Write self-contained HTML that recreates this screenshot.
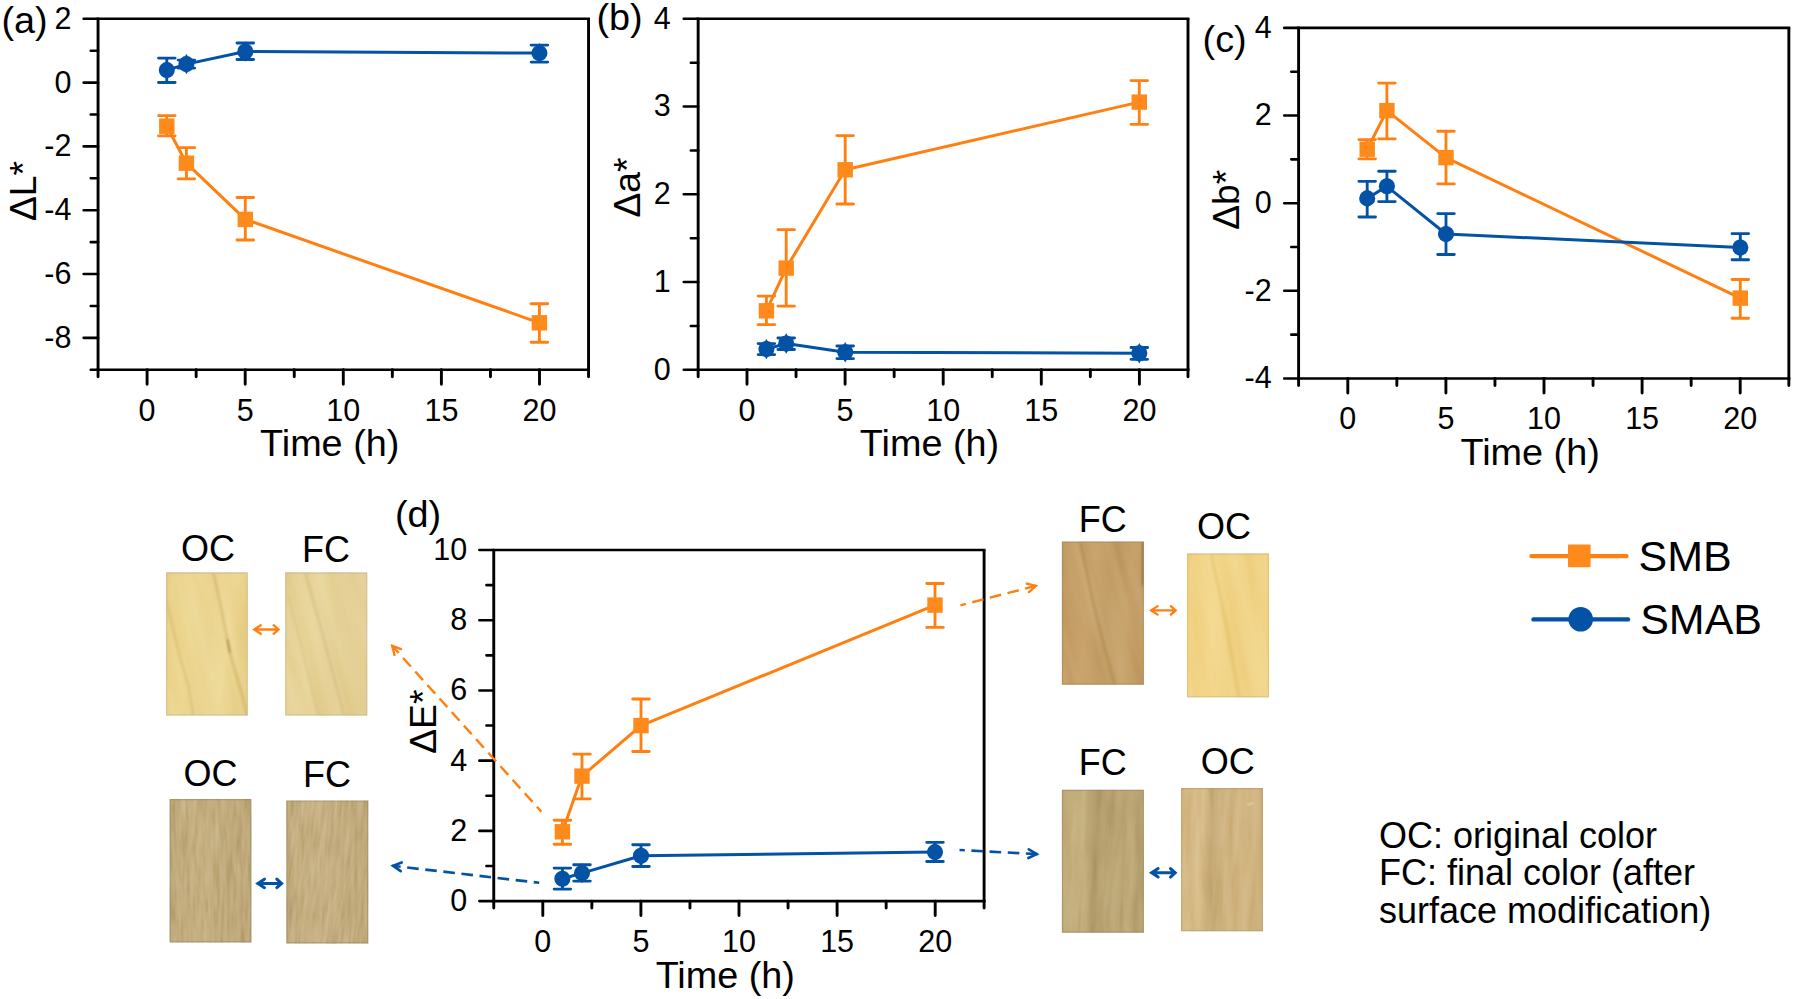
<!DOCTYPE html>
<html lang="en"><head><meta charset="utf-8"><title>Color change of surface-modified bamboo</title>
<style>html,body{margin:0;padding:0;background:#fff}svg{display:block}</style></head>
<body>
<svg width="1794" height="999" viewBox="0 0 1794 999" font-family="'Liberation Sans', Arial, Helvetica, sans-serif" fill="#000">
<defs>
<linearGradient id="w1" x1="0" y1="0" x2="1" y2="0.22"><stop offset="0" stop-color="#E4C981"/><stop offset="0.08" stop-color="#EBD48E"/><stop offset="0.35" stop-color="#EDD793"/><stop offset="0.6" stop-color="#EAD38D"/><stop offset="0.8" stop-color="#EDD895"/><stop offset="1" stop-color="#E8D18B"/></linearGradient>
<linearGradient id="w2" x1="0" y1="0" x2="1" y2="0.22"><stop offset="0" stop-color="#E2CD90"/><stop offset="0.1" stop-color="#E6D297"/><stop offset="0.4" stop-color="#E8D59B"/><stop offset="0.65" stop-color="#E4D095"/><stop offset="1" stop-color="#E3CE92"/></linearGradient>
<linearGradient id="w3" x1="0" y1="0" x2="1" y2="0"><stop offset="0" stop-color="#BBA574"/><stop offset="0.1" stop-color="#C2AC7E"/><stop offset="0.45" stop-color="#C5AF81"/><stop offset="0.7" stop-color="#C0AA7B"/><stop offset="1" stop-color="#BFA878"/></linearGradient>
<linearGradient id="w4" x1="0" y1="0" x2="1" y2="0"><stop offset="0" stop-color="#BEA878"/><stop offset="0.1" stop-color="#C4AE80"/><stop offset="0.45" stop-color="#C7B184"/><stop offset="0.75" stop-color="#C2AC7E"/><stop offset="1" stop-color="#C0AA7B"/></linearGradient>
<linearGradient id="w5" x1="0" y1="0" x2="1" y2="0.2"><stop offset="0" stop-color="#BD985F"/><stop offset="0.12" stop-color="#C49F67"/><stop offset="0.4" stop-color="#C9A46C"/><stop offset="0.6" stop-color="#C29D65"/><stop offset="0.85" stop-color="#C7A26A"/><stop offset="1" stop-color="#C29C64"/></linearGradient>
<linearGradient id="w6" x1="0" y1="0" x2="1" y2="0.2"><stop offset="0" stop-color="#EDCE80"/><stop offset="0.08" stop-color="#F1D488"/><stop offset="0.4" stop-color="#F3D78C"/><stop offset="0.65" stop-color="#F0D386"/><stop offset="1" stop-color="#F1D58A"/></linearGradient>
<linearGradient id="w7" x1="0" y1="0" x2="1" y2="0.04"><stop offset="0" stop-color="#C2AC7A"/><stop offset="0.28" stop-color="#C4AE7C"/><stop offset="0.4" stop-color="#B29C6B"/><stop offset="0.58" stop-color="#B9A372"/><stop offset="0.8" stop-color="#BFA978"/><stop offset="1" stop-color="#B7A170"/></linearGradient>
<linearGradient id="w8" x1="0" y1="0" x2="1" y2="0.04"><stop offset="0" stop-color="#D5B985"/><stop offset="0.27" stop-color="#D8BD89"/><stop offset="0.36" stop-color="#C6AA76"/><stop offset="0.5" stop-color="#CDB17D"/><stop offset="0.75" stop-color="#D3B783"/><stop offset="1" stop-color="#CDB17D"/></linearGradient>
<filter id="vb" x="-20%" y="-5%" width="140%" height="110%"><feGaussianBlur stdDeviation="1.1"/></filter>
<filter id="nA" x="0" y="0" width="100%" height="100%" color-interpolation-filters="sRGB"><feTurbulence type="fractalNoise" baseFrequency="0.07 0.007" numOctaves="2" seed="4"/><feColorMatrix type="matrix" values="0.28 0 0 0 0.36  0.28 0 0 0 0.36  0.28 0 0 0 0.36  0 0 0 0 1"/></filter>
<filter id="nB" x="0" y="0" width="100%" height="100%" color-interpolation-filters="sRGB"><feTurbulence type="fractalNoise" baseFrequency="0.3 0.028" numOctaves="3" seed="11"/><feColorMatrix type="matrix" values="0.42 0 0 0 0.29  0.42 0 0 0 0.29  0.42 0 0 0 0.29  0 0 0 0 1"/></filter>
<filter id="nC" x="0" y="0" width="100%" height="100%" color-interpolation-filters="sRGB"><feTurbulence type="fractalNoise" baseFrequency="0.14 0.014" numOctaves="3" seed="23"/><feColorMatrix type="matrix" values="0.3 0 0 0 0.35  0.3 0 0 0 0.35  0.3 0 0 0 0.35  0 0 0 0 1"/></filter>
<clipPath id="c1"><rect x="166.1" y="572.6" width="81.6" height="142.9"/></clipPath>
<clipPath id="c2"><rect x="285.2" y="572.6" width="82" height="142.9"/></clipPath>
<clipPath id="c3"><rect x="169.6" y="799.1" width="81.8" height="143.3"/></clipPath>
<clipPath id="c4"><rect x="286.3" y="800.4" width="82" height="143"/></clipPath>
<clipPath id="c5"><rect x="1061.9" y="541.5" width="82" height="143.3"/></clipPath>
<clipPath id="c6"><rect x="1187" y="553.5" width="82" height="143.8"/></clipPath>
<clipPath id="c7"><rect x="1061.9" y="789.7" width="82" height="143.1"/></clipPath>
<clipPath id="c8"><rect x="1181" y="788.1" width="82" height="143.1"/></clipPath>
</defs>
<rect width="1794" height="999" fill="#fff"/>
<path d="M96.6 18.8H590M96.6 369.75H590" fill="none" stroke="#000" stroke-width="2.6"/>
<path d="M98.05 18.8V369.75M588.55 18.8V369.75" fill="none" stroke="#000" stroke-width="2.9"/>
<path d="M98.05 18.8H83.65M98.05 82.61H83.65M98.05 146.42H83.65M98.05 210.23H83.65M98.05 274.04H83.65M98.05 337.85H83.65M98.05 50.7H90.75M98.05 114.52H90.75M98.05 178.32H90.75M98.05 242.13H90.75M98.05 305.94H90.75M98.05 369.75H90.75" stroke="#000" stroke-width="2.6" fill="none" stroke-linecap="round"/>
<path d="M147.1 369.75V384.25M245.2 369.75V384.25M343.3 369.75V384.25M441.4 369.75V384.25M539.5 369.75V384.25M98.05 369.75V376.75M196.15 369.75V376.75M294.25 369.75V376.75M392.35 369.75V376.75M490.45 369.75V376.75M588.55 369.75V376.75" stroke="#000" stroke-width="2.9" fill="none" stroke-linecap="round"/>
<g font-size="30.5" text-anchor="middle">
<text x="147.1" y="420.75">0</text>
<text x="245.2" y="420.75">5</text>
<text x="343.3" y="420.75">10</text>
<text x="441.4" y="420.75">15</text>
<text x="539.5" y="420.75">20</text>
</g>
<g font-size="30.5" text-anchor="end">
<text x="71.45" y="28.7">2</text>
<text x="71.45" y="92.51">0</text>
<text x="71.45" y="156.32">-2</text>
<text x="71.45" y="220.13">-4</text>
<text x="71.45" y="283.94">-6</text>
<text x="71.45" y="347.75">-8</text>
</g>
<text x="329.7" y="456.15" font-size="37.8" text-anchor="middle">Time (h)</text>
<text transform="translate(36.15 191) rotate(-90)" font-size="37.2" text-anchor="middle">ΔL*</text>
<text x="1.5" y="33.2" font-size="37.8">(a)</text>
<path d="M166.8 126.2L186.4 163.2L245.3 219.4L539.4 322.8" stroke="#FF7F10" stroke-width="3.0" fill="none" stroke-linejoin="round"/>
<path d="M166.8 115.6V135.8M158.5 115.6H175.1M158.5 135.8H175.1M186.4 147.6V178.8M178.1 147.6H194.7M178.1 178.8H194.7M245.3 197.5V240M237 197.5H253.6M237 240H253.6M539.4 303.7V342.2M531.1 303.7H547.7M531.1 342.2H547.7" stroke="#FF7F10" stroke-width="2.85" fill="none" stroke-linecap="round"/>
<rect x="159.1" y="118.5" width="15.4" height="15.4" fill="#FF8A1C"/>
<rect x="178.7" y="155.5" width="15.4" height="15.4" fill="#FF8A1C"/>
<rect x="237.6" y="211.7" width="15.4" height="15.4" fill="#FF8A1C"/>
<rect x="531.7" y="315.1" width="15.4" height="15.4" fill="#FF8A1C"/>
<path d="M166.8 70.1L186.4 64.1L245.3 51.5L539.4 53.1" stroke="#0352A5" stroke-width="3.0" fill="none" stroke-linejoin="round"/>
<path d="M166.8 58.1V82.5M158.5 58.1H175.1M158.5 82.5H175.1M186.4 60.1V68.1M178.1 60.1H194.7M178.1 68.1H194.7M245.3 43V59.5M237 43H253.6M237 59.5H253.6M539.4 45.1V62.1M531.1 45.1H547.7M531.1 62.1H547.7" stroke="#0352A5" stroke-width="2.85" fill="none" stroke-linecap="round"/>
<path d="M166.8 59.9L168.7 63.1V77.1L166.8 80.3L164.9 77.1V63.1ZM186.4 53.9L188.3 57.1V71.1L186.4 74.3L184.5 71.1V57.1ZM245.3 41.3L247.2 44.5V58.5L245.3 61.7L243.4 58.5V44.5ZM539.4 42.9L541.3 46.1V60.1L539.4 63.3L537.5 60.1V46.1Z" fill="#0352A5"/>
<circle cx="166.8" cy="70.1" r="8.05" fill="#0352A5"/>
<circle cx="186.4" cy="64.1" r="8.05" fill="#0352A5"/>
<circle cx="245.3" cy="51.5" r="8.05" fill="#0352A5"/>
<circle cx="539.4" cy="53.1" r="8.05" fill="#0352A5"/>
<path d="M696.7 18.8H1189.45M696.7 369.8H1189.45" fill="none" stroke="#000" stroke-width="2.6"/>
<path d="M698.15 18.8V369.8M1188 18.8V369.8" fill="none" stroke="#000" stroke-width="2.9"/>
<path d="M698.15 18.8H683.75M698.15 106.55H683.75M698.15 194.3H683.75M698.15 282.05H683.75M698.15 369.8H683.75M698.15 62.68H690.85M698.15 150.43H690.85M698.15 238.18H690.85M698.15 325.93H690.85" stroke="#000" stroke-width="2.6" fill="none" stroke-linecap="round"/>
<path d="M747 369.8V384.3M845.1 369.8V384.3M943.2 369.8V384.3M1041.3 369.8V384.3M1139.4 369.8V384.3M698.15 369.8V376.8M796.05 369.8V376.8M894.15 369.8V376.8M992.25 369.8V376.8M1090.35 369.8V376.8M1188 369.8V376.8" stroke="#000" stroke-width="2.9" fill="none" stroke-linecap="round"/>
<g font-size="30.5" text-anchor="middle">
<text x="747" y="420.8">0</text>
<text x="845.1" y="420.8">5</text>
<text x="943.2" y="420.8">10</text>
<text x="1041.3" y="420.8">15</text>
<text x="1139.4" y="420.8">20</text>
</g>
<g font-size="30.5" text-anchor="end">
<text x="670.75" y="28.7">4</text>
<text x="670.75" y="116.45">3</text>
<text x="670.75" y="204.2">2</text>
<text x="670.75" y="291.95">1</text>
<text x="670.75" y="379.7">0</text>
</g>
<text x="929.48" y="456.2" font-size="37.8" text-anchor="middle">Time (h)</text>
<text transform="translate(640.05 187.5) rotate(-90)" font-size="37.2" text-anchor="middle">Δa*</text>
<text x="596.4" y="30.4" font-size="37.8">(b)</text>
<path d="M766.4 310.8L786.2 268.1L845.2 169.8L1139.3 102.1" stroke="#FF7F10" stroke-width="3.0" fill="none" stroke-linejoin="round"/>
<path d="M766.4 296.1V324.6M758.1 296.1H774.7M758.1 324.6H774.7M786.2 229.6V306.1M777.9 229.6H794.5M777.9 306.1H794.5M845.2 135.6V204M836.9 135.6H853.5M836.9 204H853.5M1139.3 80.6V124.3M1131 80.6H1147.6M1131 124.3H1147.6" stroke="#FF7F10" stroke-width="2.85" fill="none" stroke-linecap="round"/>
<rect x="758.7" y="303.1" width="15.4" height="15.4" fill="#FF8A1C"/>
<rect x="778.5" y="260.4" width="15.4" height="15.4" fill="#FF8A1C"/>
<rect x="837.5" y="162.1" width="15.4" height="15.4" fill="#FF8A1C"/>
<rect x="1131.6" y="94.4" width="15.4" height="15.4" fill="#FF8A1C"/>
<path d="M766.4 349.1L786.2 343.5L845.2 352.2L1139.3 353.3" stroke="#0352A5" stroke-width="3.0" fill="none" stroke-linejoin="round"/>
<path d="M766.4 343.6V354.6M758.1 343.6H774.7M758.1 354.6H774.7M786.2 338V349.5M777.9 338H794.5M777.9 349.5H794.5M845.2 346V358.6M836.9 346H853.5M836.9 358.6H853.5M1139.3 347.5V359.3M1131 347.5H1147.6M1131 359.3H1147.6" stroke="#0352A5" stroke-width="2.85" fill="none" stroke-linecap="round"/>
<path d="M766.4 338.9L768.3 342.1V356.1L766.4 359.3L764.5 356.1V342.1ZM786.2 333.3L788.1 336.5V350.5L786.2 353.7L784.3 350.5V336.5ZM845.2 342L847.1 345.2V359.2L845.2 362.4L843.3 359.2V345.2ZM1139.3 343.1L1141.2 346.3V360.3L1139.3 363.5L1137.4 360.3V346.3Z" fill="#0352A5"/>
<circle cx="766.4" cy="349.1" r="8.05" fill="#0352A5"/>
<circle cx="786.2" cy="343.5" r="8.05" fill="#0352A5"/>
<circle cx="845.2" cy="352.2" r="8.05" fill="#0352A5"/>
<circle cx="1139.3" cy="353.3" r="8.05" fill="#0352A5"/>
<path d="M1297.15 27.9H1790.3M1297.15 378.45H1790.3" fill="none" stroke="#000" stroke-width="2.6"/>
<path d="M1298.6 27.9V378.45M1788.85 27.9V378.45" fill="none" stroke="#000" stroke-width="2.9"/>
<path d="M1298.6 27.9H1284.2M1298.6 115.54H1284.2M1298.6 203.18H1284.2M1298.6 290.82H1284.2M1298.6 378.46H1284.2M1298.6 71.72H1291.3M1298.6 159.36H1291.3M1298.6 247H1291.3M1298.6 334.64H1291.3" stroke="#000" stroke-width="2.6" fill="none" stroke-linecap="round"/>
<path d="M1347.8 378.45V392.95M1445.9 378.45V392.95M1544 378.45V392.95M1642.1 378.45V392.95M1740.2 378.45V392.95M1298.6 378.45V385.45M1396.85 378.45V385.45M1494.95 378.45V385.45M1593.05 378.45V385.45M1691.15 378.45V385.45M1788.85 378.45V385.45" stroke="#000" stroke-width="2.9" fill="none" stroke-linecap="round"/>
<g font-size="30.5" text-anchor="middle">
<text x="1347.8" y="429.45">0</text>
<text x="1445.9" y="429.45">5</text>
<text x="1544" y="429.45">10</text>
<text x="1642.1" y="429.45">15</text>
<text x="1740.2" y="429.45">20</text>
</g>
<g font-size="30.5" text-anchor="end">
<text x="1271.6" y="37.8">4</text>
<text x="1271.6" y="125.44">2</text>
<text x="1271.6" y="213.08">0</text>
<text x="1271.6" y="300.72">-2</text>
<text x="1271.6" y="388.36">-4</text>
</g>
<text x="1530.12" y="464.85" font-size="37.8" text-anchor="middle">Time (h)</text>
<text transform="translate(1239.2 199.8) rotate(-90)" font-size="37.2" text-anchor="middle">Δb*</text>
<text x="1202.6" y="51.9" font-size="37.8">(c)</text>
<path d="M1367.2 149.2L1386.9 110.6L1446 157.6L1740.3 298.1" stroke="#FF7F10" stroke-width="3.0" fill="none" stroke-linejoin="round"/>
<path d="M1367.2 139.6V158.8M1358.9 139.6H1375.5M1358.9 158.8H1375.5M1386.9 83.1V138.8M1378.6 83.1H1395.2M1378.6 138.8H1395.2M1446 131.2V183.9M1437.7 131.2H1454.3M1437.7 183.9H1454.3M1740.3 279.5V318.2M1732 279.5H1748.6M1732 318.2H1748.6" stroke="#FF7F10" stroke-width="2.85" fill="none" stroke-linecap="round"/>
<rect x="1359.5" y="141.5" width="15.4" height="15.4" fill="#FF8A1C"/>
<rect x="1379.2" y="102.9" width="15.4" height="15.4" fill="#FF8A1C"/>
<rect x="1438.3" y="149.9" width="15.4" height="15.4" fill="#FF8A1C"/>
<rect x="1732.6" y="290.4" width="15.4" height="15.4" fill="#FF8A1C"/>
<path d="M1367.2 198.4L1386.9 186.3L1446 234L1740.3 247.5" stroke="#0352A5" stroke-width="3.0" fill="none" stroke-linejoin="round"/>
<path d="M1367.2 181.3V217M1358.9 181.3H1375.5M1358.9 217H1375.5M1386.9 171.2V201.6M1378.6 171.2H1395.2M1378.6 201.6H1395.2M1446 213.6V254.5M1437.7 213.6H1454.3M1437.7 254.5H1454.3M1740.3 233.6V259.7M1732 233.6H1748.6M1732 259.7H1748.6" stroke="#0352A5" stroke-width="2.85" fill="none" stroke-linecap="round"/>
<path d="M1367.2 188.2L1369.1 191.4V205.4L1367.2 208.6L1365.3 205.4V191.4ZM1386.9 176.1L1388.8 179.3V193.3L1386.9 196.5L1385 193.3V179.3ZM1446 223.8L1447.9 227V241L1446 244.2L1444.1 241V227ZM1740.3 237.3L1742.2 240.5V254.5L1740.3 257.7L1738.4 254.5V240.5Z" fill="#0352A5"/>
<circle cx="1367.2" cy="198.4" r="8.05" fill="#0352A5"/>
<circle cx="1386.9" cy="186.3" r="8.05" fill="#0352A5"/>
<circle cx="1446" cy="234" r="8.05" fill="#0352A5"/>
<circle cx="1740.3" cy="247.5" r="8.05" fill="#0352A5"/>
<path d="M492.31 550H985.55M492.31 901.1H985.55" fill="none" stroke="#000" stroke-width="2.6"/>
<path d="M493.76 550V901.1M984.1 550V901.1" fill="none" stroke="#000" stroke-width="2.9"/>
<path d="M493.76 550H479.36M493.76 620.22H479.36M493.76 690.44H479.36M493.76 760.66H479.36M493.76 830.88H479.36M493.76 901.1H479.36M493.76 585.11H486.46M493.76 655.33H486.46M493.76 725.55H486.46M493.76 795.77H486.46M493.76 865.99H486.46" stroke="#000" stroke-width="2.6" fill="none" stroke-linecap="round"/>
<path d="M542.8 901.1V915.6M640.9 901.1V915.6M739 901.1V915.6M837.1 901.1V915.6M935.2 901.1V915.6M493.76 901.1V908.1M591.85 901.1V908.1M689.95 901.1V908.1M788.05 901.1V908.1M886.15 901.1V908.1M984.1 901.1V908.1" stroke="#000" stroke-width="2.9" fill="none" stroke-linecap="round"/>
<g font-size="30.5" text-anchor="middle">
<text x="542.8" y="952.1">0</text>
<text x="640.9" y="952.1">5</text>
<text x="739" y="952.1">10</text>
<text x="837.1" y="952.1">15</text>
<text x="935.2" y="952.1">20</text>
</g>
<g font-size="30.5" text-anchor="end">
<text x="467.16" y="559.9">10</text>
<text x="467.16" y="630.12">8</text>
<text x="467.16" y="700.34">6</text>
<text x="467.16" y="770.56">4</text>
<text x="467.16" y="840.78">2</text>
<text x="467.16" y="911">0</text>
</g>
<text x="725.33" y="987.5" font-size="37.8" text-anchor="middle">Time (h)</text>
<text transform="translate(436.36 721.7) rotate(-90)" font-size="37.2" text-anchor="middle">ΔE*</text>
<text x="395" y="526.5" font-size="37.8">(d)</text>
<path d="M562.4 831.8L582 776.1L641 725.6L935 605.1" stroke="#FF7F10" stroke-width="3.0" fill="none" stroke-linejoin="round"/>
<path d="M562.4 820.2V844.2M554.1 820.2H570.7M554.1 844.2H570.7M582 754.1V798.8M573.7 754.1H590.3M573.7 798.8H590.3M641 699V751.5M632.7 699H649.3M632.7 751.5H649.3M935 583.5V627.4M926.7 583.5H943.3M926.7 627.4H943.3" stroke="#FF7F10" stroke-width="2.85" fill="none" stroke-linecap="round"/>
<rect x="554.7" y="824.1" width="15.4" height="15.4" fill="#FF8A1C"/>
<rect x="574.3" y="768.4" width="15.4" height="15.4" fill="#FF8A1C"/>
<rect x="633.3" y="717.9" width="15.4" height="15.4" fill="#FF8A1C"/>
<rect x="927.3" y="597.4" width="15.4" height="15.4" fill="#FF8A1C"/>
<path d="M562.4 878.7L582 873.1L641 855.7L935 852.1" stroke="#0352A5" stroke-width="3.0" fill="none" stroke-linejoin="round"/>
<path d="M562.4 868.1V889.1M554.1 868.1H570.7M554.1 889.1H570.7M582 864.7V881.1M573.7 864.7H590.3M573.7 881.1H590.3M641 844.7V866.5M632.7 844.7H649.3M632.7 866.5H649.3M935 842.3V861.5M926.7 842.3H943.3M926.7 861.5H943.3" stroke="#0352A5" stroke-width="2.85" fill="none" stroke-linecap="round"/>
<path d="M562.4 868.5L564.3 871.7V885.7L562.4 888.9L560.5 885.7V871.7ZM582 862.9L583.9 866.1V880.1L582 883.3L580.1 880.1V866.1ZM641 845.5L642.9 848.7V862.7L641 865.9L639.1 862.7V848.7ZM935 841.9L936.9 845.1V859.1L935 862.3L933.1 859.1V845.1Z" fill="#0352A5"/>
<circle cx="562.4" cy="878.7" r="8.05" fill="#0352A5"/>
<circle cx="582" cy="873.1" r="8.05" fill="#0352A5"/>
<circle cx="641" cy="855.7" r="8.05" fill="#0352A5"/>
<circle cx="935" cy="852.1" r="8.05" fill="#0352A5"/>
<path d="M391.9 645.52L541.4 811.8" stroke="#FF7F10" stroke-width="2.4" stroke-dasharray="11.6 6.6" stroke-dashoffset="1.5" fill="none"/>
<path d="M394.51 654.95L392.27 645.92L401 649.11" stroke="#FF7F10" stroke-width="2.4" fill="none" stroke-linecap="round" stroke-linejoin="miter"/>
<path d="M392.29 865.77L539.2 882.8" stroke="#0352A5" stroke-width="2.65" stroke-dasharray="11.6 6.6" stroke-dashoffset="3.2" fill="none"/>
<path d="M400.7 871.14L393.04 865.86L401.7 862.47" stroke="#0352A5" stroke-width="2.65" fill="none" stroke-linecap="round" stroke-linejoin="miter"/>
<path d="M1036.35 585.68L960.4 605.3" stroke="#FF7F10" stroke-width="2.4" stroke-dasharray="11.6 6.6" stroke-dashoffset="0" fill="none"/>
<path d="M1026.78 583.64L1035.82 585.81L1028.96 592.09" stroke="#FF7F10" stroke-width="2.4" fill="none" stroke-linecap="round" stroke-linejoin="miter"/>
<path d="M1037.5 854.12L959.5 850" stroke="#0352A5" stroke-width="2.65" stroke-dasharray="11.6 6.6" stroke-dashoffset="0" fill="none"/>
<path d="M1028.78 849.29L1036.75 854.08L1028.31 858.01" stroke="#0352A5" stroke-width="2.65" fill="none" stroke-linecap="round" stroke-linejoin="miter"/>
<g clip-path="url(#c1)">
<rect x="166.1" y="572.6" width="81.6" height="142.9" fill="url(#w1)"/>
<rect x="126.1" y="542.6" width="161.6" height="202.9" transform="rotate(-13 206.9 644.05)" filter="url(#nA)" style="mix-blend-mode:soft-light"/>
<g filter="url(#vb)"><polyline points="213.5,573 222,612 230.3,654.7 241.5,693 247,715" fill="none" stroke="#B08C40" stroke-width="2.6" opacity="0.32" stroke-linecap="round" stroke-linejoin="round"/><polyline points="227.5,640 230,652" fill="none" stroke="#7A5520" stroke-width="2.0" opacity="0.42" stroke-linecap="round" stroke-linejoin="round"/><polyline points="166.5,601.8 178,650 188.6,686.7 193.4,715.5" fill="none" stroke="#B89548" stroke-width="2.6" opacity="0.24" stroke-linecap="round" stroke-linejoin="round"/></g>
<rect x="166.7" y="573.2" width="80.4" height="141.7" fill="none" stroke="#D3B870" stroke-width="1.2" opacity="0.55"/>
</g>
<g clip-path="url(#c2)">
<rect x="285.2" y="572.6" width="82" height="142.9" fill="url(#w2)"/>
<rect x="245.2" y="542.6" width="162" height="202.9" transform="rotate(-14 326.2 644.05)" filter="url(#nA)" style="mix-blend-mode:soft-light"/>
<g filter="url(#vb)"><polyline points="305.5,573 322,632 344,715.5" fill="none" stroke="#B89C56" stroke-width="3" opacity="0.24" stroke-linecap="round" stroke-linejoin="round"/><polyline points="288,596 300,640 318,715" fill="none" stroke="#B89C56" stroke-width="3" opacity="0.16" stroke-linecap="round" stroke-linejoin="round"/></g>
<rect x="285.8" y="573.2" width="80.8" height="141.7" fill="none" stroke="#CDB67C" stroke-width="1.2" opacity="0.55"/>
</g>
<g clip-path="url(#c3)">
<rect x="169.6" y="799.1" width="81.8" height="143.3" fill="url(#w3)"/>
<rect x="129.6" y="769.1" width="161.8" height="203.3" transform="rotate(-1 210.5 870.75)" filter="url(#nB)" style="mix-blend-mode:soft-light"/>
<rect x="170.2" y="799.7" width="80.6" height="142.1" fill="none" stroke="#9C8656" stroke-width="1.2" opacity="0.55"/>
</g>
<g clip-path="url(#c4)">
<rect x="286.3" y="800.4" width="82" height="143" fill="url(#w4)"/>
<rect x="246.3" y="770.4" width="162" height="203" transform="rotate(5 327.3 871.9)" filter="url(#nB)" style="mix-blend-mode:soft-light"/>
<rect x="286.9" y="801" width="80.8" height="141.8" fill="none" stroke="#9C8656" stroke-width="1.2" opacity="0.55"/>
</g>
<g clip-path="url(#c5)">
<rect x="1061.9" y="541.5" width="82" height="143.3" fill="url(#w5)"/>
<rect x="1021.9" y="511.5" width="162" height="203.3" transform="rotate(-14 1102.9 613.15)" filter="url(#nA)" style="mix-blend-mode:soft-light"/>
<g filter="url(#vb)"><polyline points="1080.6,543.5 1092.5,599.6 1104,645 1114.6,684.7" fill="none" stroke="#94703A" stroke-width="3" opacity="0.3" stroke-linecap="round" stroke-linejoin="round"/><polyline points="1143.2,542 1143.2,585" fill="none" stroke="#6A3C28" stroke-width="1.4" opacity="0.8" stroke-linecap="round" stroke-linejoin="round"/></g>
<rect x="1062.5" y="542.1" width="80.8" height="142.1" fill="none" stroke="#A6824C" stroke-width="1.2" opacity="0.55"/>
</g>
<g clip-path="url(#c6)">
<rect x="1187" y="553.5" width="82" height="143.8" fill="url(#w6)"/>
<rect x="1147" y="523.5" width="162" height="203.8" transform="rotate(-12 1228 625.4)" filter="url(#nA)" style="mix-blend-mode:soft-light"/>
<g filter="url(#vb)"><polyline points="1211.6,555.4 1225.2,620 1238.8,697.5" fill="none" stroke="#C8A048" stroke-width="3" opacity="0.2" stroke-linecap="round" stroke-linejoin="round"/></g>
<rect x="1187.6" y="554.1" width="80.8" height="142.6" fill="none" stroke="#E0B45C" stroke-width="1.2" opacity="0.55"/>
</g>
<g clip-path="url(#c7)">
<rect x="1061.9" y="789.7" width="82" height="143.1" fill="url(#w7)"/>
<rect x="1021.9" y="759.7" width="162" height="203.1" transform="rotate(3 1102.9 861.25)" filter="url(#nC)" style="mix-blend-mode:soft-light"/>
<rect x="1062.5" y="790.3" width="80.8" height="141.9" fill="none" stroke="#9A8454" stroke-width="1.2" opacity="0.55"/>
</g>
<g clip-path="url(#c8)">
<rect x="1181" y="788.1" width="82" height="143.1" fill="url(#w8)"/>
<rect x="1141" y="758.1" width="162" height="203.1" transform="rotate(2 1222 859.65)" filter="url(#nC)" style="mix-blend-mode:soft-light"/>
<g filter="url(#vb)"><polyline points="1247.5,805.3 1253,802.6" fill="none" stroke="#F6ECD4" stroke-width="1.1" opacity="0.75" stroke-linecap="round" stroke-linejoin="round"/></g>
<rect x="1181.6" y="788.7" width="80.8" height="141.9" fill="none" stroke="#B89C68" stroke-width="1.2" opacity="0.55"/>
</g>
<path d="M255 629.5H277.3M260.73 633.75L254.19 629.5L260.73 625.25M273.67 625.22L278.43 629.5L273.67 633.78" stroke="#FF7F10" stroke-width="2.3" fill="none" stroke-linecap="round" stroke-linejoin="miter"/>
<path d="M258.2 883.4H280.9M264.44 887.65L257.9 883.4L264.44 879.15M276.85 879.12L281.61 883.4L276.85 887.68" stroke="#0352A5" stroke-width="3.0" fill="none" stroke-linecap="round" stroke-linejoin="miter"/>
<path d="M1151.9 610.4H1174.5M1157.63 614.65L1151.09 610.4L1157.63 606.15M1170.87 606.12L1175.63 610.4L1170.87 614.68" stroke="#FF7F10" stroke-width="2.3" fill="none" stroke-linecap="round" stroke-linejoin="miter"/>
<path d="M1151.9 872.8H1174.5M1158.14 877.05L1151.6 872.8L1158.14 868.55M1170.45 868.52L1175.21 872.8L1170.45 877.08" stroke="#0352A5" stroke-width="3.0" fill="none" stroke-linecap="round" stroke-linejoin="miter"/>
<g font-size="36" text-anchor="middle">
<text x="208" y="560.6">OC</text>
<text x="326" y="562">FC</text>
<text x="210.5" y="785.5">OC</text>
<text x="327" y="787">FC</text>
<text x="1102.7" y="531.6">FC</text>
<text x="1223.9" y="538.6">OC</text>
<text x="1102.7" y="774.5">FC</text>
<text x="1227.8" y="773.6">OC</text>
</g>
<path d="M1531.5 556.1H1626.5" stroke="#FF7F10" stroke-width="4.4" stroke-linecap="round"/>
<rect x="1568" y="544.5" width="22.6" height="22.7" rx="0.8" fill="#FF8A1C"/>
<path d="M1533.5 619.4H1628" stroke="#0352A5" stroke-width="4.4" stroke-linecap="round"/>
<circle cx="1580.7" cy="619.3" r="12.3" fill="#0352A5"/>
<text x="1638.6" y="570.8" font-size="43">SMB</text>
<text x="1640.2" y="634" font-size="43">SMAB</text>
<g font-size="36">
<text x="1379" y="847.6">OC: original color</text>
<text x="1379" y="885">FC: final color (after</text>
<text x="1379" y="922.6">surface modification)</text>
</g>
</svg>
</body></html>
